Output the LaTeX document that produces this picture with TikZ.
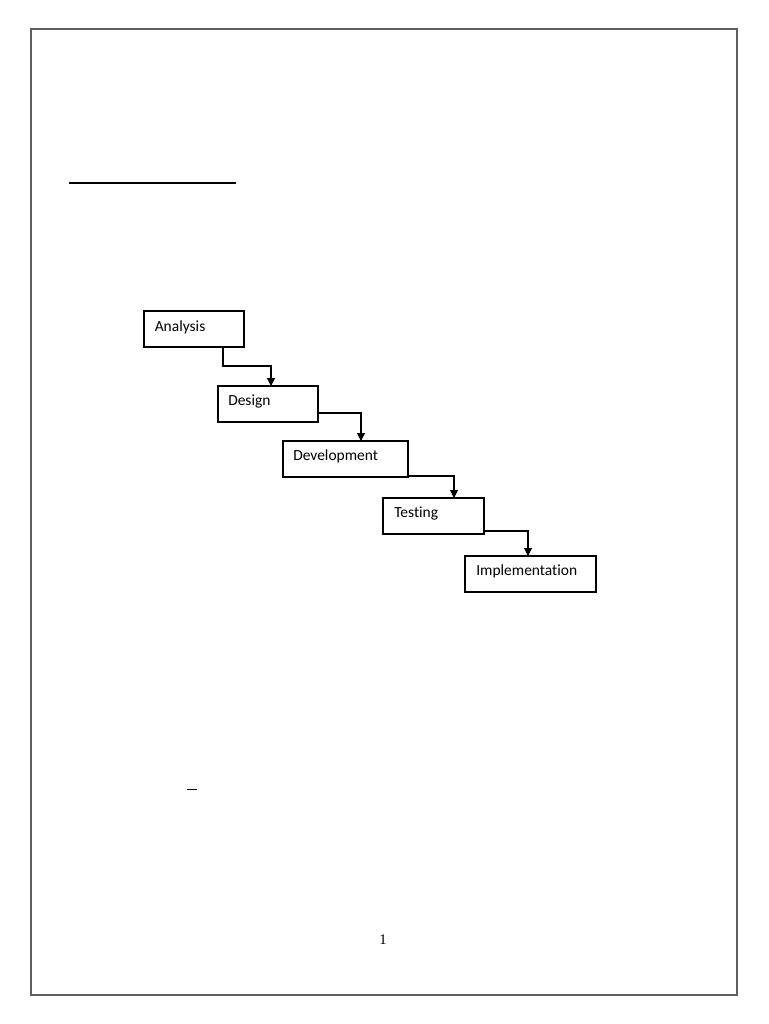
\documentclass[tikz,border=0pt]{standalone}
\usepackage{fontspec}
\setmainfont{Carlito}[Ligatures={NoCommon}]
\newfontfamily\numfont{Liberation Serif}
\usetikzlibrary{arrows.meta,calc}
\definecolor{framegray}{RGB}{95,95,95}
\tikzset{
  stage/.style={draw=black, line width=0.8pt, rectangle, anchor=north west, inner sep=0pt, outer sep=0pt, minimum height=27pt},
  stagetext/.style={anchor=base west, inner sep=0pt, font=\fontsize{11.6pt}{13pt}\selectfont},
  flow/.style={draw=black, line width=0.8pt, -{Triangle[width=6pt,length=6pt]}},
}
\begin{document}
\begin{tikzpicture}[x=0.75pt, y=-0.75pt]
\useasboundingbox (0,0) rectangle (768,1024);
% page frame
\draw[framegray, line width=1.1pt] (31,29) rectangle (737,995);
% heading rule
\draw[black, line width=1.2pt] (69,183) -- (236,183);
% stages
\node[stage, minimum width=75pt] (a) at (144,311) {};
\node[stage, minimum width=75pt] (d) at (218,386) {};
\node[stage, minimum width=93.75pt] (v) at (283,441) {};
\node[stage, minimum width=75.75pt] (t) at (383,498) {};
\node[stage, minimum width=98.25pt] (m) at (465,556) {};
\node[stagetext] (ta) at ($(a.north west)+(10.5,20)$) {Analysis};
\node[stagetext] (td) at ($(d.north west)+(10,19)$) {Design};
\node[stagetext] (tv) at ($(v.north west)+(10,19)$) {Development};
\node[stagetext] (tt) at ($(t.north west)+(11,19)$) {Testing};
\node[stagetext] (tm) at ($(m.north west)+(11,19)$) {Implementation};
% connectors
\draw[flow] ($(a.south)+(29,0)$) -- ++(0,19) -| ($(d.north)+(3,0)$);
\draw[flow] ($(d.east)+(0,9)$) -| ($(v.north)+(15.5,0)$);
\draw[flow] ($(v.east)+(0,17)$) -| ($(t.north)+(20.5,0)$);
\draw[flow] ($(t.east)+(0,15)$) -| ($(m.north)+(-2.5,0)$);
% stray mark
\coordinate (s1) at (187,789);
\coordinate (s2) at (197,789);
\draw[black, line width=0.7pt] (s1) -- (s2);
% page number
\node[anchor=base, inner sep=0pt, font=\numfont\fontsize{11pt}{13pt}\selectfont] (pn) at (383,944) {1};
\end{tikzpicture}
\end{document}
